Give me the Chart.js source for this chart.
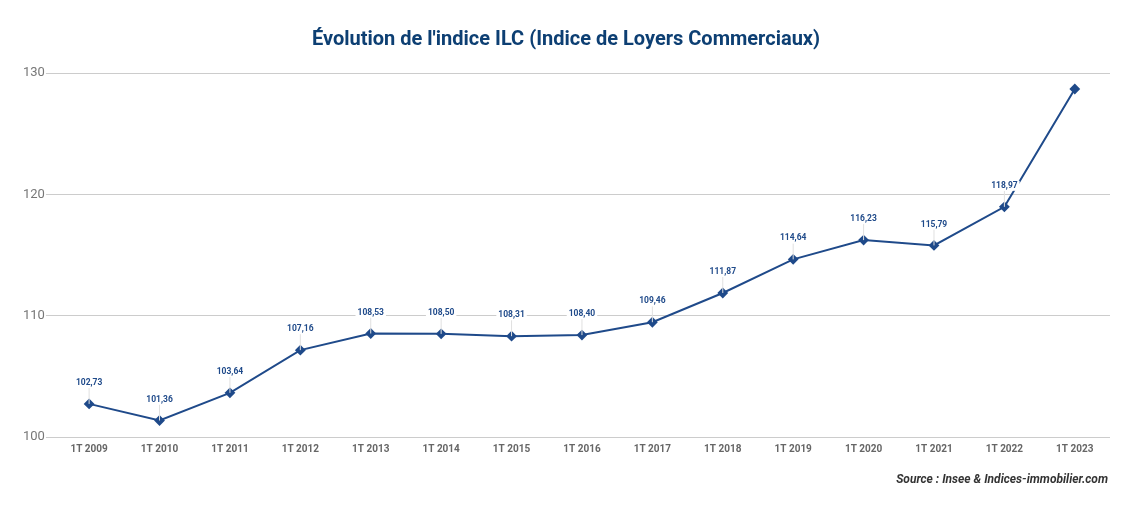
<!DOCTYPE html>
<html>
<head>
<meta charset="utf-8">
<script src="https://cdn.jsdelivr.net/npm/chart.js@4"></script>
<style>
  html, body { margin: 0; padding: 0; background: #fff; }
  #wrap { position: relative; width: 1135px; height: 513px; }
</style>
</head>
<body>
<div id="wrap"><canvas id="ilcChart"></canvas></div>
<script>
// ILC values per first quarter
const periods = ['1T 2009', '1T 2010', '1T 2011', '1T 2012', '1T 2013', '1T 2014', '1T 2015', '1T 2016',
                 '1T 2017', '1T 2018', '1T 2019', '1T 2020', '1T 2021', '1T 2022', '1T 2023'];
const ilcValues = [102.73, 101.36, 103.64, 107.16, 108.53, 108.50, 108.31, 108.40,
                   109.46, 111.87, 114.64, 116.23, 115.79, 118.97, 128.68];
// which points get a value label (last one has none in the original)
const showLabel = [true, true, true, true, true, true, true, true, true, true, true, true, true, true, false];
const yTicks = [100, 110, 120, 130];

const navy = '#1f4a8a';

// small value labels above the points, with a thin connector line
const valueLabels = {
    id: 'valueLabels',
    afterDatasetsDraw(chart) {
        const ctx = chart.ctx;
        const meta = chart.getDatasetMeta(0);
        ctx.save();
        ctx.font = 'bold 8.5px Roboto';
        ctx.textAlign = 'center';
        ctx.textBaseline = 'middle';
        meta.data.forEach((pt, i) => {
            if (!showLabel[i]) return;
            const txt = ilcValues[i].toFixed(2).replace('.', ',');
            const ly = pt.y - 21;
            const w = ctx.measureText(txt).width;
            ctx.strokeStyle = '#e0e0e0';
            ctx.lineWidth = 1;
            ctx.beginPath();
            ctx.moveTo(pt.x, ly + 5);
            ctx.lineTo(pt.x, pt.y);
            ctx.stroke();
            ctx.fillStyle = '#fff';
            ctx.fillRect(pt.x - w / 2 - 2, ly - 5, w + 4, 10);
            ctx.fillStyle = navy;
            ctx.fillText(txt, pt.x, ly);
        });
        ctx.restore();
    }
};

// source note bottom right
const sourceNote = {
    id: 'sourceNote',
    afterDraw(chart) {
        const ctx = chart.ctx;
        ctx.save();
        ctx.font = 'italic bold 12px Roboto';
        ctx.fillStyle = '#333';
        ctx.textAlign = 'right';
        ctx.textBaseline = 'middle';
        ctx.fillText('Source : Insee & Indices-immobilier.com', 1108, 480);
        ctx.restore();
    }
};

const ctx = document.getElementById('ilcChart').getContext('2d');
const ilcChart = new Chart(ctx, {
    type: 'line',
    data: {
        labels: periods,
        datasets: [{
            data: ilcValues,
            borderColor: navy,
            backgroundColor: navy,
            borderWidth: 2,
            pointStyle: 'rectRot',
            pointRadius: 4,
            pointHoverRadius: 4,
            tension: 0
        }]
    },
    options: {
        responsive: true,
        maintainAspectRatio: false,
        animation: false,
        layout: { padding: { left: 22, right: 25, top: 6, bottom: 52 } },
        plugins: {
            legend: { display: false },
            tooltip: { enabled: false },
            title: {
                display: true,
                text: "Évolution de l'indice ILC (Indice de Loyers Commerciaux)",
                color: '#0d3f73',
                font: { family: 'Roboto', size: 20, weight: 'bold' },
                padding: { top: 22, bottom: 21 }
            }
        },
        scales: {
            x: {
                offset: true,
                grid: { display: false, drawTicks: false },
                border: { display: false },
                ticks: {
                    color: '#666',
                    font: { family: 'Roboto', size: 10, weight: 'bold' },
                    padding: 6,
                    maxRotation: 0
                }
            },
            y: {
                min: 100,
                max: 130,
                afterBuildTicks: (axis) => { axis.ticks = yTicks.map(v => ({ value: v })); },
                grid: { color: '#cccccc', drawTicks: true, tickLength: 8 },
                border: { display: false },
                ticks: {
                    color: '#777',
                    font: { family: 'Roboto', size: 13 },
                    padding: 1
                }
            }
        }
    },
    plugins: [valueLabels, sourceNote]
});
</script>
</body>
</html>
